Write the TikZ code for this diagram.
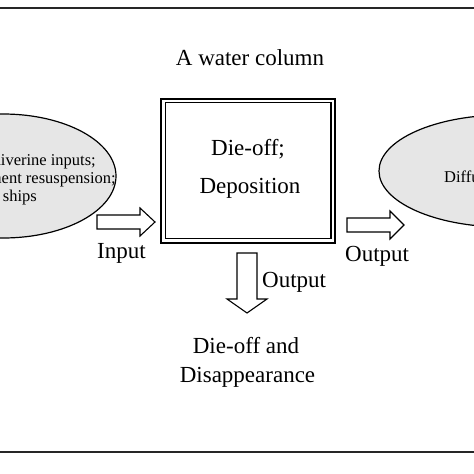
\documentclass[tikz,border=0pt]{standalone}
\usepackage{fontspec}
\setmainfont{Liberation Serif}
\definecolor{ellgray}{RGB}{230,230,230}
\begin{document}
\begin{tikzpicture}[x=1pt,y=-1pt,
  big/.style={font=\fontsize{23}{27}\selectfont, inner sep=0pt},
  small/.style={font=\fontsize{16.5}{19}\selectfont, inner sep=0pt},
  blockarrow/.style={draw=black, line width=1.1pt, fill=white, line join=miter},
  ell/.style={draw=black, line width=1.2pt, fill=ellgray},
  frameline/.style={draw=black!85, line width=1.6pt}]
\useasboundingbox (0,0) rectangle (474,474);
\clip (0,0) rectangle (474,474);
% frame lines
\coordinate (ftl) at (0,8);
\coordinate (ftr) at (474,8);
\coordinate (fbl) at (0,452);
\coordinate (fbr) at (474,452);
\draw[frameline] (ftl) -- (ftr);
\draw[frameline] (fbl) -- (fbr);
% title
\node[big, anchor=base] (title) at (250,65) {A water column};
% ellipses
\draw[ell] (3,176) ellipse [x radius=113, y radius=62];
\draw[ell] (504,171) ellipse [x radius=125, y radius=56];
\node[small, anchor=base east] (src1) at (96,165) {Riverine inputs;};
\node[small, anchor=base east] (src2) at (116,183) {Sediment resuspension;};
\node[small, anchor=base east] (src3) at (37,201) {ships};
\node[small, anchor=base west] (sink) at (444,182) {Diffusion};
% main box (double border)
\coordinate (bo1) at (161,98.5);
\coordinate (bo2) at (335,243);
\coordinate (bi1) at (165.5,102.5);
\coordinate (bi2) at (331,238.5);
\draw[line width=2pt] (bo1) rectangle (bo2);
\draw[line width=1.3pt] (bi1) rectangle (bi2);
\node[big, anchor=base] (box1) at (248,155) {Die-off;};
\node[big, anchor=base] (box2) at (250,193) {Deposition};
% input arrow
\draw[blockarrow] (97,215) -- (140,215) -- (140,208) -- (155,222) -- (140,236) -- (140,229) -- (97,229) -- cycle;
\node[big, anchor=base west] (lin) at (97,258) {Input};
% right output arrow
\draw[blockarrow] (347,218) -- (390,218) -- (390,211) -- (404,225) -- (390,239) -- (390,232) -- (347,232) -- cycle;
\node[big, anchor=base west] (lout) at (345,261) {Output};
% down output arrow
\draw[blockarrow] (237,253) -- (237,299) -- (227,299) -- (247,313) -- (267,299) -- (257,299) -- (257,253) -- cycle;
\node[big, anchor=base west] (ldown) at (262,287) {Output};
% bottom text
\node[big, anchor=base] (end1) at (246,353) {Die-off and};
\node[big, anchor=base] (end2) at (247.5,382) {Disappearance};
\end{tikzpicture}
\end{document}
